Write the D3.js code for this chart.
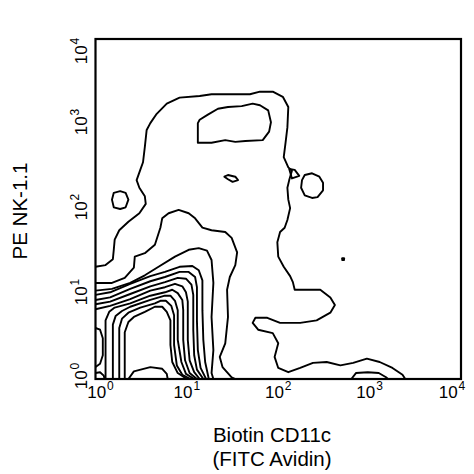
<!DOCTYPE html>
<html lang="en">
<head>
<meta charset="UTF-8">
<title>NK-1.1 vs CD11c contour plot</title>
<script src="https://cdnjs.cloudflare.com/ajax/libs/d3/7.8.5/d3.min.js"></script>
<style>
    body {
        margin: 0;
        background: #fff;
    }
    svg {
        display: block;
        font-family: Arial, 'Liberation Sans', sans-serif;
    }
    .contour {
        fill: none;
        stroke: #000;
        stroke-width: 1.9px;
        stroke-linejoin: round;
    }
    .tick-label { font-size: 17px; fill: #000; }
    .axis-title { font-size: 20.5px; fill: #000; }
</style>
</head>
<body>
<div id="chart"></div>

<script>
// contour lines, points are [log10 FITC (CD11c), log10 PE (NK-1.1)]
const outerContour = [[0,1.32],[0.11,1.34],[0.19,1.41],[0.20,1.52],[0.21,1.64],[0.26,1.75],[0.36,1.85],[0.48,1.95],[0.55,2.06],[0.54,2.15],[0.48,2.25],[0.45,2.34],[0.49,2.46],[0.52,2.55],[0.54,2.73],[0.56,2.93],[0.60,3.01],[0.67,3.12],[0.78,3.24],[0.92,3.31],[1.14,3.33],[1.27,3.35],[1.69,3.35],[1.80,3.38],[1.94,3.38],[2.05,3.32],[2.11,3.20],[2.10,2.96],[2.08,2.78],[2.06,2.61],[2.11,2.49],[2.15,2.45],[2.12,2.34],[2.10,2.25],[2.11,2.11],[2.13,2.01],[2.10,1.87],[2.07,1.78],[2.02,1.73],[1.99,1.61],[2.00,1.44],[2.06,1.32],[2.13,1.21],[2.16,1.14],[2.18,1.05],[2.31,1.05],[2.46,1.05],[2.57,0.96],[2.62,0.87],[2.57,0.78],[2.42,0.69],[2.24,0.66],[2.02,0.66],[1.88,0.72],[1.75,0.72],[1.72,0.66],[1.78,0.58],[1.94,0.54],[2.00,0.42],[1.96,0.26],[2.00,0.13],[2.11,0.08],[2.24,0.13],[2.38,0.19],[2.53,0.20],[2.68,0.16],[2.82,0.19],[2.97,0.24],[3.11,0.20],[3.25,0.13],[3.36,0.05],[3.39,0]];
const contour2 = [[0,1.13],[0.18,1.13],[0.32,1.19],[0.42,1.31],[0.43,1.44],[0.54,1.48],[0.65,1.58],[0.71,1.78],[0.73,1.89],[0.80,1.95],[0.91,1.99],[1.02,1.95],[1.09,1.89],[1.17,1.78],[1.27,1.75],[1.42,1.73],[1.49,1.66],[1.55,1.49],[1.53,1.34],[1.47,1.20],[1.44,1.05],[1.45,0.73],[1.42,0.42],[1.36,0.26],[1.39,0.14],[1.49,0.02],[1.53,0]];
const contour3 = [[0,1.04],[0.18,1.06],[0.38,1.13],[0.54,1.22],[0.69,1.32],[0.87,1.44],[1.02,1.52],[1.13,1.54],[1.22,1.51],[1.27,1.40],[1.29,1.13],[1.27,0.73],[1.29,0.34],[1.27,0.07],[1.29,0]];
const inner1 = [[0,0.99],[0.16,1.02],[0.38,1.12],[0.60,1.21],[0.76,1.26],[0.92,1.32],[1.06,1.33],[1.13,1.28],[1.17,1.16],[1.17,0.81],[1.18,0.46],[1.20,0.20],[1.24,0]];
const inner2 = [[0,0.93],[0.16,0.96],[0.38,1.06],[0.60,1.15],[0.76,1.20],[0.92,1.26],[1.02,1.26],[1.09,1.20],[1.11,1.08],[1.11,0.69],[1.12,0.34],[1.15,0.13],[1.21,0]];
const inner3 = [[0,0.88],[0.16,0.91],[0.38,1.00],[0.60,1.09],[0.76,1.14],[0.90,1.19],[0.99,1.18],[1.05,1.11],[1.07,0.99],[1.07,0.58],[1.08,0.28],[1.11,0.11],[1.18,0]];
const inner4 = [[0,0.82],[0.16,0.86],[0.38,0.94],[0.60,1.04],[0.76,1.08],[0.87,1.12],[0.95,1.09],[0.99,1.02],[1.01,0.91],[1.01,0.46],[1.03,0.22],[1.08,0.08],[1.14,0]];
const inner5 = [[0.11,0],[0.11,0.40],[0.11,0.69],[0.15,0.79],[0.21,0.84],[0.38,0.89],[0.60,0.98],[0.76,1.02],[0.84,1.05],[0.90,1.01],[0.95,0.93],[0.96,0.81],[0.96,0.46],[0.98,0.22],[1.03,0.07],[1.11,0]];
const inner6 = [[0.19,0],[0.19,0.40],[0.19,0.64],[0.22,0.74],[0.29,0.80],[0.38,0.85],[0.60,0.93],[0.76,0.98],[0.82,0.98],[0.87,0.92],[0.90,0.81],[0.90,0.46],[0.94,0.20],[0.99,0.06],[1.08,0]];
const inner7 = [[0.26,0],[0.26,0.40],[0.26,0.60],[0.29,0.71],[0.36,0.78],[0.49,0.84],[0.65,0.89],[0.71,0.92],[0.77,0.92],[0.83,0.86],[0.86,0.75],[0.86,0.40],[0.89,0.16],[0.95,0.05],[1.04,0]];
const inner8 = [[0.32,0],[0.32,0.40],[0.32,0.55],[0.36,0.67],[0.42,0.73],[0.54,0.79],[0.65,0.85],[0.73,0.85],[0.78,0.79],[0.82,0.69],[0.82,0.40],[0.84,0.20],[0.90,0.07],[1.00,0]];
const bottomArc = [[0.36,0],[0.42,0.09],[0.60,0.14],[0.73,0.12],[0.78,0.06],[0.79,0]];
const cornerLoop = [[0,0.60],[0.05,0.58],[0.08,0.48],[0.08,0.28],[0.05,0.18],[0,0.14]];
const cornerLow = [[0,0.07],[0.05,0.08],[0.09,0.04],[0.10,0]];
const rightLow = [[2.80,0],[2.85,0.07],[2.98,0.08],[3.10,0.07],[3.18,0.02],[3.20,0]];

// closed islands
const nkHighIsland = [[1.12,3.01],[1.12,2.78],[1.27,2.78],[1.42,2.81],[1.53,2.79],[1.64,2.80],[1.83,2.81],[1.90,2.91],[1.92,3.02],[1.89,3.16],[1.80,3.22],[1.72,3.24],[1.60,3.21],[1.45,3.20],[1.34,3.18],[1.23,3.11],[1.14,3.05]];
const leftIsland = [[0.27,2.21],[0.33,2.19],[0.36,2.11],[0.33,2.02],[0.27,2.00],[0.20,2.02],[0.18,2.11],[0.20,2.19]];
const smallIsland = [[1.41,2.38],[1.45,2.40],[1.53,2.38],[1.56,2.34],[1.50,2.32],[1.45,2.35]];
const rightIsland = [[2.26,2.34],[2.29,2.40],[2.37,2.42],[2.45,2.38],[2.49,2.31],[2.49,2.22],[2.43,2.14],[2.37,2.13],[2.29,2.16],[2.25,2.25]];
const knot = [[2.12,2.47],[2.18,2.46],[2.23,2.39],[2.15,2.36]];
const speck = [[2.70,1.42],[2.72,1.42],[2.72,1.40],[2.70,1.40]];

const tickValues = [1, 10, 100, 1000, 10000];
const tickExponents = ["0", "1", "2", "3", "4"];
const xTitle = ["Biotin CD11c", "(FITC Avidin)"];
const yTitle = "PE NK-1.1";

const openLines = [outerContour, contour2, contour3, inner1, inner2, inner3, inner4,
    inner5, inner6, inner7, inner8, bottomArc, cornerLoop, cornerLow, rightLow];
const closedLines = [nkHighIsland, leftIsland, smallIsland, rightIsland, knot, speck];

const width = 474, height = 474;
const plotLeft = 95.5, plotRight = 461, plotTop = 39, plotBottom = 379;

const svg = d3.select("#chart").append("svg")
    .attr("width", width)
    .attr("height", height);

const x = d3.scaleLog().domain([1, 1e4]).range([plotLeft, plotRight]);
const y = d3.scaleLog().domain([1, 1e4]).range([plotBottom, plotTop]);

svg.append("clipPath").attr("id", "plot-clip")
    .append("rect")
    .attr("x", plotLeft).attr("y", plotTop)
    .attr("width", plotRight - plotLeft).attr("height", plotBottom - plotTop);

const line = d3.line()
    .x(d => x(Math.pow(10, d[0])))
    .y(d => y(Math.pow(10, d[1])));
const closedLine = d3.line()
    .x(d => x(Math.pow(10, d[0])))
    .y(d => y(Math.pow(10, d[1])))
    .curve(d3.curveLinearClosed);

const plot = svg.append("g").attr("clip-path", "url(#plot-clip)");

plot.selectAll("path.open")
    .data(openLines)
    .join("path")
    .attr("class", "contour open")
    .attr("d", line);

plot.selectAll("path.closed")
    .data(closedLines)
    .join("path")
    .attr("class", "contour closed")
    .attr("d", closedLine);

// frame
svg.append("rect")
    .attr("x", plotLeft).attr("y", plotTop)
    .attr("width", plotRight - plotLeft).attr("height", plotBottom - plotTop)
    .attr("fill", "none")
    .attr("stroke", "#000")
    .attr("stroke-width", 2.2);

// x tick labels  10^n
const xShift = [5, 0, 0, 0, -9];
const xLabels = svg.selectAll("text.xtick")
    .data(tickValues)
    .join("text")
    .attr("class", "tick-label xtick")
    .attr("x", (d, i) => x(d) + xShift[i])
    .attr("y", 398)
    .attr("text-anchor", "middle");
xLabels.append("tspan").text("10");
xLabels.append("tspan")
    .attr("dx", 1)
    .attr("dy", -8)
    .attr("font-size", 12)
    .text((d, i) => tickExponents[i]);

// y tick labels, rotated
const yShift = [-3, -2, -2, -2, 12];
const yLabels = svg.selectAll("text.ytick")
    .data(tickValues)
    .join("text")
    .attr("class", "tick-label ytick")
    .attr("text-anchor", "middle")
    .attr("transform", (d, i) => `translate(87,${y(d) + yShift[i]}) rotate(-90)`);
yLabels.append("tspan").text("10");
yLabels.append("tspan")
    .attr("dx", 1)
    .attr("dy", -8)
    .attr("font-size", 12)
    .text((d, i) => tickExponents[i]);

// axis titles
svg.selectAll("text.xtitle")
    .data(xTitle)
    .join("text")
    .attr("class", "axis-title xtitle")
    .attr("x", 272)
    .attr("y", (d, i) => 442 + i * 24)
    .attr("text-anchor", "middle")
    .text(d => d);

svg.append("text")
    .attr("class", "axis-title")
    .attr("text-anchor", "middle")
    .attr("transform", "translate(27,211) rotate(-90)")
    .text(yTitle);
</script>
</body>
</html>
